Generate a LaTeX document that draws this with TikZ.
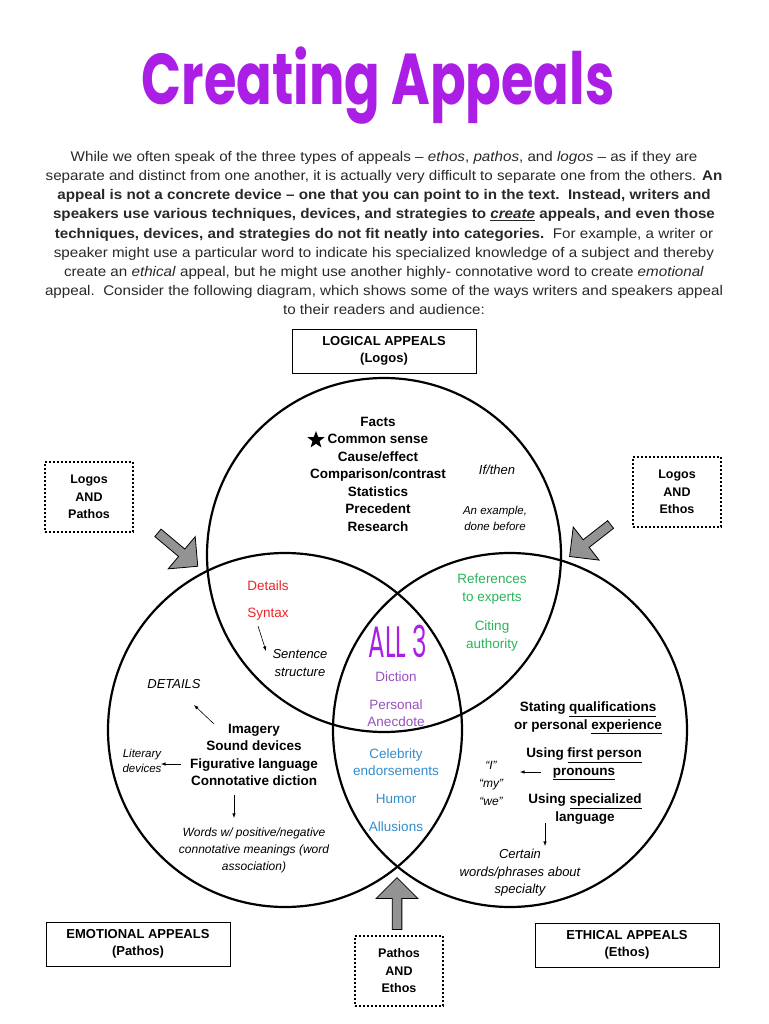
\documentclass[tikz,border=0pt]{standalone}
\usepackage{fontspec}
\setmainfont{Liberation Sans}
\newfontfamily\titlefont{Poppins}
\usetikzlibrary{shapes.arrows,shapes.geometric}
\definecolor{ttl}{RGB}{170,30,230}
\definecolor{cred}{RGB}{232,38,42}
\definecolor{cgreen}{RGB}{40,180,90}
\definecolor{cpurp}{RGB}{150,80,190}
\definecolor{cblue}{RGB}{50,140,205}
\definecolor{body}{RGB}{40,40,40}
\begin{document}
\begin{tikzpicture}[x=1pt,y=-1pt,
  circ/.style={draw,line width=2.2pt},
  box/.style={draw,line width=1pt,align=center,font=\fontsize{13}{17}\selectfont\bfseries,minimum width=184,minimum height=44},
  dbox/.style={draw,line width=2pt,dotted,align=center,font=\fontsize{12.5}{17.5}\selectfont\bfseries,minimum width=88,minimum height=70},
  garr/.style={single arrow,draw=black,fill=gray!85,line width=0.8pt,minimum height=52,minimum width=42,single arrow head extend=8,inner sep=2pt},
  txt/.style={align=center,font=\fontsize{13.5}{17.5}\selectfont},
  btxt/.style={txt,font=\fontsize{13.5}{17.5}\selectfont\bfseries},
  itxt/.style={txt,font=\fontsize{13}{17.5}\selectfont\itshape},
  sarr/.style={-latex,line width=0.6pt}]
\useasboundingbox (0,0) rectangle (768,1024);
\node[font=\titlefont\fontsize{72}{76}\selectfont\bfseries,text=ttl] (title) at (378,86) {\scalebox{0.73}[1]{Creating Appeals}};
\node[align=center,text=body,font=\fontsize{14}{19.2}\selectfont] (para) at (384,233) {\scalebox{1.085}[1]{\parbox{640pt}{\centering While we often speak of the three types of appeals -- \textit{ethos}, \textit{pathos}, and \textit{logos} -- as if they are\\
separate and distinct from one another, it is actually very difficult to separate one from the others. \textbf{An}\\
\textbf{appeal is not a concrete device -- one that you can point to in the text.\ \ Instead, writers and}\\
\textbf{speakers use various techniques, devices, and strategies to \underline{\textit{create}} appeals, and even those}\\
\textbf{techniques, devices, and strategies do not fit neatly into categories.}\ \ For example, a writer or\\
speaker might use a particular word to indicate his specialized knowledge of a subject and thereby\\
create an \textit{ethical} appeal, but he might use another highly- connotative word to create \textit{emotional}\\
appeal.\ \ Consider the following diagram, which shows some of the ways writers and speakers appeal\\
to their readers and audience:}}};
\draw[circ] (384,555) circle (177);
\draw[circ] (285,730) circle (177);
\draw[circ] (510,730) circle (177);
\node[box] (logic) at (384,351) {LOGICAL APPEALS\\(Logos)};
\node[box] (emo) at (138,944) {EMOTIONAL APPEALS\\(Pathos)};
\node[box] (eth) at (627,945) {ETHICAL APPEALS\\(Ethos)};
\node[dbox] (lp) at (89,497) {Logos\\AND\\Pathos};
\node[dbox] (le) at (677,492) {Logos\\AND\\Ethos};
\node[dbox] (pe) at (399,971) {Pathos\\AND\\Ethos};
\node[garr,rotate=-40] (a1) at (176,548) {};
\node[garr,rotate=-142] (a2) at (592,539) {};
\node[garr,rotate=90] (a3) at (397,906) {};
% top
\node[btxt] (logos) at (378,474) {Facts\\Common sense\\Cause/effect\\Comparison/contrast\\Statistics\\Precedent\\Research};
\node[star,star points=5,star point ratio=2.4,fill=black,inner sep=0pt,minimum size=18] (star) at (316,440) {};
\node[itxt] (ift) at (497,470) {If/then};
\node[itxt,font=\fontsize{11.5}{16}\selectfont\itshape] (ex) at (495,518) {An example,\\done before};
\node[txt,text=cred] (det) at (268,586) {Details};
\node[txt,text=cred] (syn) at (268,614) {Syntax};
\node[itxt] (sent) at (300,663) {Sentence\\structure};
\draw[sarr] (258,626) -- (266,651);
\node[font=\titlefont\fontsize{44}{46}\selectfont,text=ttl] (all) at (398,641) {\scalebox{0.56}[1]{ALL 3}};
\node[txt,text=cpurp] (dic) at (396,677) {Diction};
\node[txt,text=cpurp] (pa) at (396,713) {Personal\\Anecdote};
\node[txt,text=cblue] (cel) at (396,762) {Celebrity\\endorsements};
\node[txt,text=cblue] (hum) at (396,799) {Humor};
\node[txt,text=cblue] (all2) at (396,827) {Allusions};
\node[txt,text=cgreen] (ref) at (492,589) {References\\to experts};
\node[txt,text=cgreen] (cit) at (492,636) {Citing\\authority};
% left
\node[itxt] (dets) at (174,684) {DETAILS};
\node[btxt] (img) at (254,755) {Imagery\\Sound devices\\Figurative language\\Connotative diction};
\draw[sarr] (214,724) -- (194,705);
\node[itxt,font=\fontsize{11.5}{15}\selectfont\itshape] (lit) at (142,761) {Literary\\devices};
\draw[sarr] (181,764) -- (161,764);
\draw[sarr] (234,795) -- (234,818);
\node[itxt,font=\fontsize{12}{17}\selectfont\itshape] (words) at (254,850) {Words w/ positive/negative\\connotative meanings (word\\association)};
% right
\node[btxt] (stq) at (588,718) {Stating \underline{qualifications}\\or personal \underline{experience}};
\node[btxt] (fp) at (584,764) {Using \underline{first person}\\\underline{pronouns}};
\draw[sarr] (541,772) -- (520,772);
\node[itxt,font=\fontsize{12}{18}\selectfont\itshape] (pron) at (491,783) {``I''\\``my''\\``we''};
\node[btxt] (spl) at (585,809) {Using \underline{specialized}\\language};
\draw[sarr] (545,823) -- (545,846);
\node[itxt] (cert) at (520,873) {Certain\\words/phrases about\\specialty};
\end{tikzpicture}
\end{document}
